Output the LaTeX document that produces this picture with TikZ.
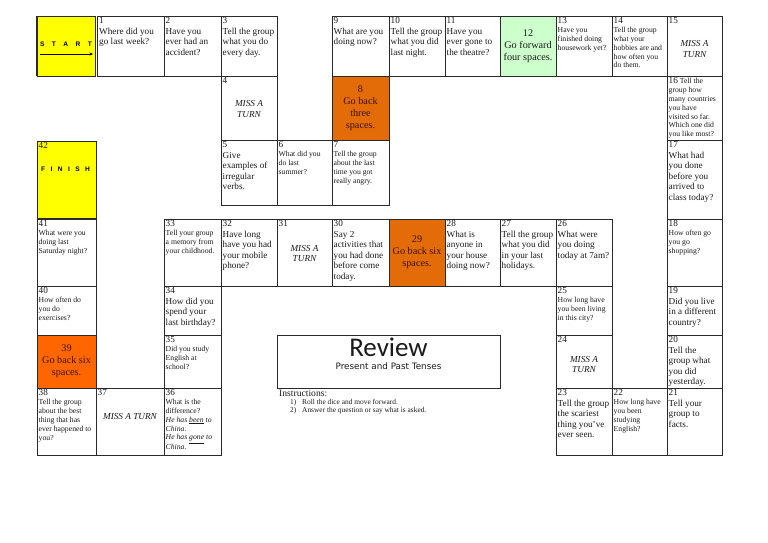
\documentclass[tikz,border=0pt]{standalone}
\usepackage{fontspec}
\setmainfont{Liberation Serif}
\newfontfamily\titlefont{Carlito}
\newfontfamily\subfont{DejaVu Sans}
\newfontfamily\bsans{Liberation Sans}
\usetikzlibrary{arrows.meta}
\definecolor{yel}{HTML}{FFFF00}
\definecolor{org}{HTML}{E36C09}
\definecolor{orgb}{HTML}{FF6600}
\definecolor{grn}{HTML}{CCFFCC}
\definecolor{brd}{HTML}{2A2A2A}
\definecolor{otxt}{HTML}{3A1000}
\definecolor{txtc}{HTML}{1A1A1A}
\newcommand\fnorm{\fontsize{9.2}{10.6}\selectfont}
\newcommand\fsmall{\fontsize{7.7}{8.9}\selectfont}
\newcommand\fbig{\fontsize{10.2}{12}\selectfont}
\newcommand\mycell[6]{\node[cellbox,fill=#6,minimum width={#4pt-#2pt},minimum height={#5pt-#3pt}] (#1) at (#2,#3) {};}
\newcommand\ctext[3]{\node[txt] (#1) at ([shift={(1.5pt,-1.2pt)}]#2.north west) {#3};}
\newcommand\stext[4]{\node[txts] (#1) at ([shift={(1.5pt,-1.2pt)}]#2.north west) {{\fnorm #3}\\#4};}
\tikzset{
  cellbox/.style={draw=brd,line width=0.8pt,inner sep=0pt,outer sep=0pt,anchor=north west,rectangle},
  txt/.style={inner sep=0pt,anchor=north west,align=left,font=\fnorm,text=txtc},
  txts/.style={inner sep=0pt,anchor=north west,align=left,font=\fsmall,text=txtc},
  ctr/.style={inner sep=0pt,align=center,font=\fbig},
  miss/.style={inner sep=0pt,align=center,font=\fnorm\itshape,text=txtc},
}
\begin{document}
\begin{tikzpicture}[x=1pt,y=-1pt]
\useasboundingbox[fill=white] (0,0) rectangle (768,543);
% cells
\mycell{c0}{37}{16}{95}{76}{yel}
\mycell{c1}{97.5}{16}{164}{76}{white}
\mycell{c2}{164}{16}{221}{76}{white}
\mycell{c3}{221}{16}{277}{76}{white}
\mycell{c4}{221}{76}{277}{140}{white}
\mycell{c5}{221}{140}{277}{205}{white}
\mycell{c6}{277}{140}{332}{205}{white}
\mycell{c7}{332}{140}{389}{205}{white}
\mycell{c8}{332}{76}{389}{140}{org}
\mycell{c9}{332}{16}{389}{76}{white}
\mycell{c10}{389}{16}{445}{76}{white}
\mycell{c11}{445}{16}{500}{76}{white}
\mycell{c12}{500}{16}{556}{76}{grn}
\mycell{c13}{556}{16}{612}{76}{white}
\mycell{c14}{612}{16}{667}{76}{white}
\mycell{c15}{667}{16}{722}{76}{white}
\mycell{c16}{667}{76}{722}{140}{white}
\mycell{c17}{667}{140}{722}{219}{white}
\mycell{c18}{667}{219}{722}{286}{white}
\mycell{c19}{667}{286}{722}{335}{white}
\mycell{c20}{667}{335}{722}{388}{white}
\mycell{c21}{667}{388}{722}{455}{white}
\mycell{c22}{612}{388}{667}{455}{white}
\mycell{c23}{556}{388}{612}{455}{white}
\mycell{c24}{556}{335}{612}{388}{white}
\mycell{c25}{556}{286}{612}{335}{white}
\mycell{c26}{556}{219}{612}{286}{white}
\mycell{c27}{500}{219}{556}{286}{white}
\mycell{c28}{445}{219}{500}{286}{white}
\mycell{c29}{389}{219}{445}{286}{org}
\mycell{c30}{332}{219}{389}{286}{white}
\mycell{c31}{277}{219}{332}{286}{white}
\mycell{c32}{221}{219}{277}{286}{white}
\mycell{c33}{164}{219}{221}{286}{white}
\mycell{c34}{164}{286}{221}{335}{white}
\mycell{c35}{164}{335}{221}{388}{white}
\mycell{c36}{164}{388}{221}{455}{white}
\mycell{c37}{96}{388}{164}{455}{white}
\mycell{c38}{37}{388}{96}{455}{white}
\mycell{c39}{37}{335}{96}{388}{orgb}
\mycell{c40}{37}{286}{96}{335}{white}
\mycell{c41}{37}{219}{96}{286}{white}
\mycell{c42}{37}{141}{96}{218}{yel}
\mycell{rbox}{277}{335}{500}{388}{white}
% START / FINISH
\draw[brd,line width=1.2pt] (c0.north west) -- (c0.south west);
\node[inner sep=0pt,font=\bsans\bfseries\fontsize{6.6}{7}\selectfont] (st) at (66,44) {\makebox[52pt][s]{S\hfill T\hfill A\hfill R\hfill T}};
\coordinate (sa) at (40,54);
\coordinate (sb) at (93,54);
\draw[black,line width=0.7pt,-{Stealth[length=3.5pt,width=3pt]}] (sa) -- (sb);
\ctext{t42}{c42}{42}
\node[inner sep=0pt,font=\bsans\bfseries\fontsize{6.6}{7}\selectfont] (fin) at (65.5,169) {\makebox[49pt][s]{F\hfill I\hfill N\hfill I\hfill S\hfill H}};
% texts
\ctext{t1}{c1}{1\\Where did you\\go last week?}
\ctext{t2}{c2}{2\\Have you\\ever had an\\accident?}
\ctext{t3}{c3}{3\\Tell the group\\what you do\\every day.}
\ctext{t4}{c4}{4}
\node[miss] (m4) at ([yshift=-1pt]c4.center) {MISS A\\TURN};
\ctext{t5}{c5}{5\\Give\\examples of\\irregular\\verbs.}
\stext{t6}{c6}{6}{What did you\\do last\\summer?}
\stext{t7}{c7}{7}{Tell the group\\about the last\\time you got\\really angry.}
\node[ctr,text=otxt] (m8) at (c8.center) {8\\Go back\\three\\spaces.};
\ctext{t9}{c9}{9\\What are you\\doing now?}
\ctext{t10}{c10}{10\\Tell the group\\what you did\\last night.}
\ctext{t11}{c11}{11\\Have you\\ever gone to\\the theatre?}
\node[ctr,text=txtc] (m12) at (c12.center) {12\\Go forward\\four spaces.};
\stext{t13}{c13}{13}{Have you\\finished doing\\housework yet?}
\stext{t14}{c14}{14}{Tell the group\\what your\\hobbies are and\\how often you\\do them.}
\ctext{t15}{c15}{15}
\node[miss] (m15) at ([yshift=-3pt]c15.center) {MISS A\\TURN};
\node[txts] (t16) at ([shift={(1.5pt,-1.2pt)}]c16.north west) {{\fnorm 16} Tell the\\group how\\many countries\\you have\\visited so far.\\Which one did\\you like most?};
\ctext{t17}{c17}{17\\What had\\you done\\before you\\arrived to\\class today?}
\stext{t18}{c18}{18}{How often go\\you go\\shopping?}
\ctext{t19}{c19}{19\\Did you live\\in a different\\country?}
\ctext{t20}{c20}{20\\Tell the\\group what\\you did\\yesterday.}
\ctext{t21}{c21}{21\\Tell your\\group to\\facts.}
\stext{t22}{c22}{22}{How long have\\you been\\studying\\English?}
\ctext{t23}{c23}{23\\Tell the group\\the scariest\\thing you’ve\\ever seen.}
\ctext{t24}{c24}{24}
\node[miss] (m24) at ([yshift=-3pt]c24.center) {MISS A\\TURN};
\stext{t25}{c25}{25}{How long have\\you been living\\in this city?}
\ctext{t26}{c26}{26\\What were\\you doing\\today at 7am?}
\ctext{t27}{c27}{27\\Tell the group\\what you did\\in your last\\holidays.}
\ctext{t28}{c28}{28\\What is\\anyone in\\your house\\doing now?}
\node[ctr,text=otxt] (m29) at (c29.center) {29\\Go back six\\spaces.};
\ctext{t30}{c30}{30\\Say 2\\activities that\\you had done\\before come\\today.}
\ctext{t31}{c31}{31}
\node[miss] (m31) at ([yshift=-1pt]c31.center) {MISS A\\TURN};
\ctext{t32}{c32}{32\\Have long\\have you had\\your mobile\\phone?}
\stext{t33}{c33}{33}{Tell your group\\a memory from\\your childhood.}
\ctext{t34}{c34}{34\\How did you\\spend your\\last birthday?}
\stext{t35}{c35}{35}{Did you study\\English at\\school?}
\stext{t36}{c36}{36}{What is the\\difference?\\\itshape He has \underline{been} to\\\itshape China.\\\itshape He has \underline{gone} to\\\itshape China.}
\ctext{t37}{c37}{37}
\node[miss] (m37) at ([yshift=5pt]c37.center) {MISS A TURN};
\stext{t38}{c38}{38}{Tell the group\\about the best\\thing that has\\ever happened to\\you?}
\node[ctr,text=otxt] (m39) at (c39.center) {39\\Go back six\\spaces.};
\stext{t40}{c40}{40}{How often do\\you do\\exercises?}
\stext{t41}{c41}{41}{What were you\\doing last\\Saturday night?}
% title
\node[inner sep=0pt,font=\titlefont\fontsize{27}{30}\selectfont,text=txtc] (rev) at (388.5,347.5) {Review};
\node[inner sep=0pt,font=\subfont\fontsize{8.8}{10}\selectfont,text=txtc] (sub) at (388.5,366) {Present and Past Tenses};
% instructions
\node[txt,font=\fontsize{9.6}{11}\selectfont] (ins) at (279,390) {Instructions:};
\node[txt,font=\fontsize{7.4}{8.3}\selectfont] (i1n) at (290,399) {1)};
\node[txt,font=\fontsize{7.4}{8.3}\selectfont] (i1) at (302,399) {Roll the dice and move forward.};
\node[txt,font=\fontsize{7.4}{8.3}\selectfont] (i2n) at (290,407.5) {2)};
\node[txt,font=\fontsize{7.4}{8.3}\selectfont] (i2) at (302,407.5) {Answer the question or say what is asked.};
\end{tikzpicture}
\end{document}
